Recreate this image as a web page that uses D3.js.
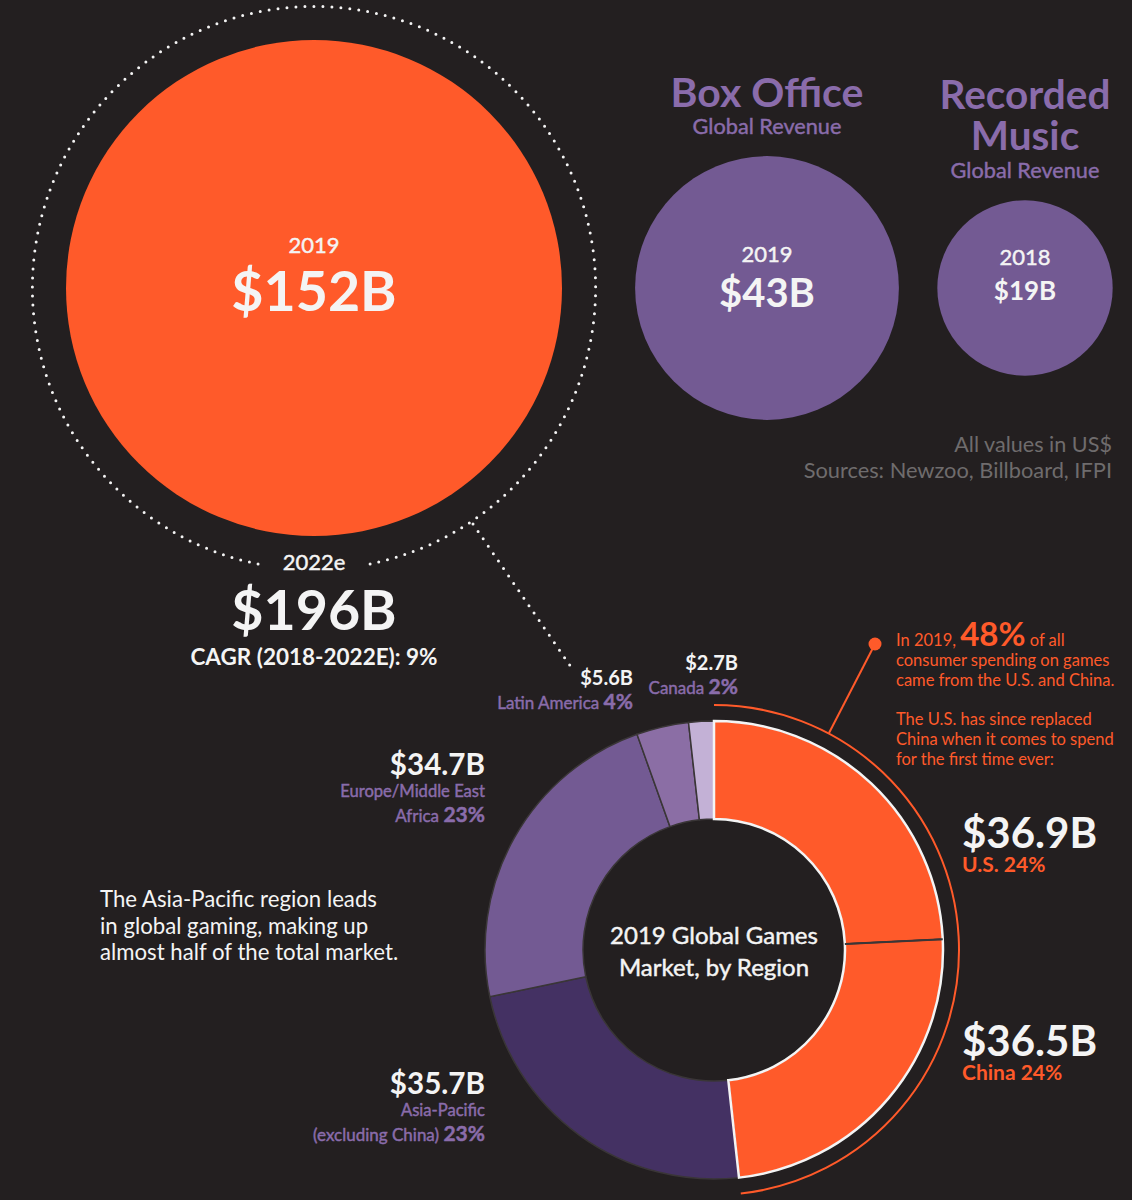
<!DOCTYPE html>
<html>
<head>
<meta charset="utf-8">
<script src="https://cdn.jsdelivr.net/npm/d3@7"></script>
<style>
  html, body { margin: 0; padding: 0; background: #231f20; }
  svg { display: block; }
  text { font-family: Lato, "Open Sans", sans-serif; }
</style>
</head>
<body>
<div id="chart"></div>
<script>
// bubbles, in US$ billions
const bubbleNames = ["Games", "Box Office", "Recorded Music"];
const bubbleYears = ["2019", "2019", "2018"];
const bubbleValues = [152, 43, 19];
const forecastYear = "2022e";
const forecastValue = 196;

// donut, in US$ billions
const regions = ["U.S.", "China", "Asia-Pacific", "Europe/Middle East Africa", "Latin America", "Canada"];
const regionValues = [36.9, 36.5, 35.7, 34.7, 5.6, 2.7];
const regionShares = [24, 24, 23, 23, 4, 2];

const width = 1132, height = 1200;
const bg = "#231f20", orange = "#ff5a2a", white = "#f4f4f4", purple = "#735a93", labelPurple = "#8a6cab";
const regionColors = [orange, orange, "#443163", purple, "#8b6ea5", "#c3b1d6"];

const svg = d3.select("#chart").append("svg")
  .attr("width", width)
  .attr("height", height);

svg.append("rect").attr("width", width).attr("height", height).attr("fill", bg);

function label(x, y, str, size, fill, weight, anchor) {
  const t = svg.append("text")
    .attr("x", x)
    .attr("y", y)
    .attr("font-size", size)
    .attr("font-weight", weight == 500 ? 400 : (weight || 400))
    .attr("fill", fill)
    .attr("text-anchor", anchor || "middle")
    .text(str);
  // no medium cut of the font, so thicken the regular one a bit
  if (weight == 500) t.attr("stroke", fill).attr("stroke-width", 0.45);
  return t;
}

// single open arc, angles measured like d3.arc (0 = up, clockwise)
function openArc(radius, a0, a1) {
  const p = d3.path();
  p.arc(0, 0, radius, a0 - Math.PI / 2, a1 - Math.PI / 2);
  return p.toString();
}

// Bubbles
const r = d3.scaleSqrt().domain([0, 152]).range([0, 248]);
const bubbleX = d3.scaleOrdinal().domain(bubbleNames).range([314, 767, 1025]);
const bubbleY = 288;

svg.append("g").selectAll("circle")
  .data(bubbleValues)
  .enter()
  .append("circle")
  .attr("cx", (d, i) => bubbleX(bubbleNames[i]))
  .attr("cy", bubbleY)
  .attr("r", d => r(d))
  .attr("fill", (d, i) => i == 0 ? orange : purple);

// dotted forecast ring, open at the bottom for the label
const ringGap = 0.2;
svg.append("path")
  .attr("transform", `translate(${bubbleX("Games")},${bubbleY})`)
  .attr("d", openArc(r(forecastValue), Math.PI + ringGap, 3 * Math.PI - ringGap))
  .attr("fill", "none")
  .attr("stroke", white)
  .attr("stroke-width", 3)
  .attr("stroke-linecap", "round")
  .attr("stroke-dasharray", "0 9");

// dotted line from the bubble down to the donut
svg.append("line")
  .attr("x1", 473).attr("y1", 524)
  .attr("x2", 571).attr("y2", 667)
  .attr("stroke", white)
  .attr("stroke-width", 3)
  .attr("stroke-linecap", "round")
  .attr("stroke-dasharray", "0 9");

label(314, 253, bubbleYears[0], 22, white, 500);
label(314, 311, `$${bubbleValues[0]}B`, 55.5, white, 700);
label(767, 262, bubbleYears[1], 22, white, 500);
label(767, 307, `$${bubbleValues[1]}B`, 40, white, 700);
label(1025, 265, bubbleYears[2], 22, white, 500);
label(1025, 300, `$${bubbleValues[2]}B`, 26, white, 700);

label(767, 107, "Box Office", 41, labelPurple, 700);
label(767, 134, "Global Revenue", 21.7, labelPurple, 500);
label(1025, 109, "Recorded", 40.5, labelPurple, 700);
label(1025, 150, "Music", 40.5, labelPurple, 700);
label(1025, 178, "Global Revenue", 21.7, labelPurple, 500);

label(1112, 452, "All values in US$", 21.6, "#6f6c6d", 400, "end");
label(1112, 478, "Sources: Newzoo, Billboard, IFPI", 21.8, "#6f6c6d", 400, "end");

label(314, 570, forecastYear, 22, white, 500);
label(314, 630, `$${forecastValue}B`, 55.5, white, 700);
label(314, 665, "CAGR (2018-2022E): 9%", 22.5, white, 700);

// Donut
const cx = 714, cy = 950;
const pie = d3.pie().sort(null)(regionValues);
const arc = d3.arc().innerRadius(131).outerRadius(229);
const donut = svg.append("g").attr("transform", `translate(${cx},${cy})`);

donut.selectAll("path.slice")
  .data(pie)
  .enter()
  .append("path")
  .attr("class", "slice")
  .attr("d", arc)
  .attr("fill", (d, i) => regionColors[i])
  .attr("stroke", "#3a3637")
  .attr("stroke-width", 1.5);

// white edge around the U.S. + China half
const topTwo = { startAngle: pie[0].startAngle, endAngle: pie[1].endAngle };
donut.append("path")
  .attr("d", arc(topTwo))
  .attr("fill", "none")
  .attr("stroke", white)
  .attr("stroke-width", 2.5);
donut.append("path")
  .attr("d", arc({ startAngle: pie[1].startAngle, endAngle: pie[1].startAngle }))
  .attr("stroke", "#3a3637")
  .attr("stroke-width", 2);

// orange bracket outside the donut
donut.append("path")
  .attr("d", openArc(245, topTwo.startAngle, topTwo.endAngle))
  .attr("fill", "none")
  .attr("stroke", orange)
  .attr("stroke-width", 2);

svg.append("line")
  .attr("x1", 829).attr("y1", 733)
  .attr("x2", 875).attr("y2", 644)
  .attr("stroke", orange)
  .attr("stroke-width", 2);
svg.append("circle").attr("cx", 875).attr("cy", 644).attr("r", 6.5).attr("fill", orange);

label(714, 944, "2019 Global Games", 24, white, 500);
label(714, 976, "Market, by Region", 24, white, 500);

// Region labels
label(962, 848, `$${regionValues[0]}B`, 42, white, 700, "start");
label(962, 872, `${regions[0]} ${regionShares[0]}%`, 21, orange, 700, "start");
label(962, 1056, `$${regionValues[1]}B`, 42, white, 700, "start");
label(962, 1080, `${regions[1]} ${regionShares[1]}%`, 21, orange, 700, "start");

function regionLine(x, y, name, share) {
  const t = label(x, y, "", 17, labelPurple, 500, "end");
  t.append("tspan").text(name + " ");
  t.append("tspan").attr("font-size", 21).attr("font-weight", 700).text(share + "%");
}

label(485, 1094, `$${regionValues[2]}B`, 29.6, white, 700, "end");
label(485, 1116, "Asia-Pacific", 16.6, labelPurple, 500, "end");
regionLine(485, 1141, "(excluding China)", regionShares[2]);

label(485, 775, `$${regionValues[3]}B`, 29.6, white, 700, "end");
label(485, 797, "Europe/Middle East", 16.6, labelPurple, 500, "end");
regionLine(485, 822, "Africa", regionShares[3]);

label(633, 685, `$${regionValues[4]}B`, 20, white, 700, "end");
regionLine(633, 709, regions[4], regionShares[4]);
label(738, 670, `$${regionValues[5]}B`, 20, white, 700, "end");
regionLine(738, 694, regions[5], regionShares[5]);

// Side notes
label(100, 907, "The Asia-Pacific region leads", 22.2, white, 400, "start");
label(100, 934, "in global gaming, making up", 22.2, white, 400, "start");
label(100, 960, "almost half of the total market.", 22.2, white, 400, "start");

const note = label(896, 646, "", 16.5, orange, 400, "start");
note.append("tspan").text("In 2019, ");
note.append("tspan").attr("font-size", 33).attr("font-weight", 700).text("48%");
note.append("tspan").text(" of all");
label(896, 666, "consumer spending on games", 16.5, orange, 400, "start");
label(896, 686, "came from the U.S. and China.", 16.5, orange, 400, "start");
label(896, 725, "The U.S. has since replaced", 16.5, orange, 400, "start");
label(896, 745, "China when it comes to spend", 16.5, orange, 400, "start");
label(896, 765, "for the first time ever:", 16.5, orange, 400, "start");
</script>
</body>
</html>
